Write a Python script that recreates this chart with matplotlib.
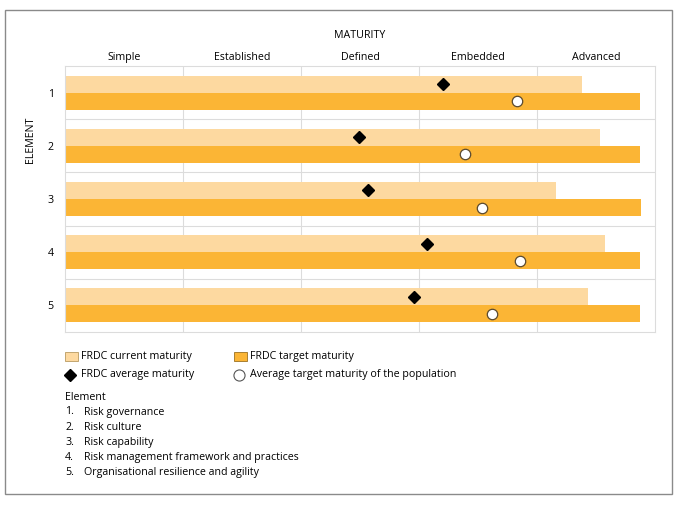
import numpy as np
import matplotlib.pyplot as plt
from matplotlib.patches import Rectangle
from matplotlib.lines import Line2D

plt.rcParams['font.family'] = ['Open Sans', 'DejaVu Sans']

# data (x in maturity units, 0 = start of "Simple")
elements = ['1', '2', '3', '4', '5']
levels = ['Simple', 'Established', 'Defined', 'Embedded', 'Advanced']
current = [4.38, 4.53, 4.16, 4.58, 4.43]
target = [4.87, 4.87, 4.88, 4.87, 4.87]
frdc_avg = [3.20, 2.49, 2.57, 3.07, 2.96]
pop_target = [3.83, 3.39, 3.53, 3.86, 3.62]
element_names = ['Risk governance', 'Risk culture', 'Risk capability',
                 'Risk management framework and practices',
                 'Organisational resilience and agility']

light = '#FDD9A0'
dark = '#FBB535'
grid = '#DCDCDC'
fs = 7.7
W, H = 680, 505


def fx(px):
    return px / W


def fy(py):
    return 1 - py / H


fig = plt.figure(figsize=(6.8, 5.05), dpi=100)
ax = fig.add_axes([fx(65), fy(332), (655 - 65) / W, (332 - 66) / H])

y = np.arange(len(elements))
bh = 0.32
ax.barh(y - bh / 2, current, height=bh, color=light, zorder=2)
ax.barh(y + bh / 2, target, height=bh, color=dark, zorder=2)
ax.plot(frdc_avg, y - bh / 2, 'D', color='black', ms=6, zorder=3)
ax.plot(pop_target, y + bh / 2, 'o', mfc='white', mec='#5a4a30', mew=0.9,
        ms=7.5, zorder=3)

ax.set_xlim(0, 5)
ax.set_ylim(len(elements) - 0.5, -0.5)
for v in range(1, 5):
    ax.axvline(v, color=grid, lw=0.8, zorder=1)
for v in np.arange(0.5, len(elements) - 1, 1):
    ax.axhline(v, color=grid, lw=0.8, zorder=1)
for s in ax.spines.values():
    s.set_color(grid)
    s.set_linewidth(0.8)

ax.set_yticks(y)
ax.set_yticklabels(elements, fontsize=fs)
ax.tick_params(axis='y', length=0, pad=8)
ax.set_xticks(np.arange(len(levels)) + 0.5)
ax.set_xticklabels(levels, fontsize=fs)
ax.xaxis.tick_top()
ax.tick_params(axis='x', length=0, pad=2)

fig.text(fx(360), fy(35), 'MATURITY', fontsize=fs, ha='center', va='center')
fig.text(fx(30), fy(140), 'ELEMENT', fontsize=fs, ha='center', va='center',
         rotation=90)

# legend
fig.patches.append(Rectangle((fx(65), fy(361)), 13 / W, 9 / H, facecolor=light,
                             edgecolor='#b89a60', lw=0.6, transform=fig.transFigure))
fig.patches.append(Rectangle((fx(234), fy(361)), 13 / W, 9 / H, facecolor=dark,
                             edgecolor='#9a7020', lw=0.6, transform=fig.transFigure))
fig.text(fx(81), fy(356), 'FRDC current maturity', fontsize=fs, va='center')
fig.text(fx(250), fy(356), 'FRDC target maturity', fontsize=fs, va='center')
fig.add_artist(Line2D([fx(70)], [fy(375)], marker='D', color='black', ms=6,
                      transform=fig.transFigure))
fig.add_artist(Line2D([fx(239)], [fy(375)], marker='o', mfc='white', mec='#555555',
                      mew=0.8, ms=8, transform=fig.transFigure))
fig.text(fx(81), fy(375), 'FRDC average maturity', fontsize=fs, va='center')
fig.text(fx(250), fy(375), 'Average target maturity of the population', fontsize=fs,
         va='center')

fig.text(fx(65), fy(397), 'Element', fontsize=fs, va='center')
for i, name in enumerate(element_names):
    yy = 412 + i * 15.2
    fig.text(fx(65), fy(yy), f'{i + 1}.', fontsize=fs, va='center')
    fig.text(fx(84), fy(yy), name, fontsize=fs, va='center')

# outer frame
fig.patches.append(Rectangle((fx(5), fy(494)), (672 - 5) / W, (494 - 10) / H,
                             facecolor='none', edgecolor='#8a8a8a', lw=1,
                             transform=fig.transFigure))

fig.savefig('out.png', dpi=100)
